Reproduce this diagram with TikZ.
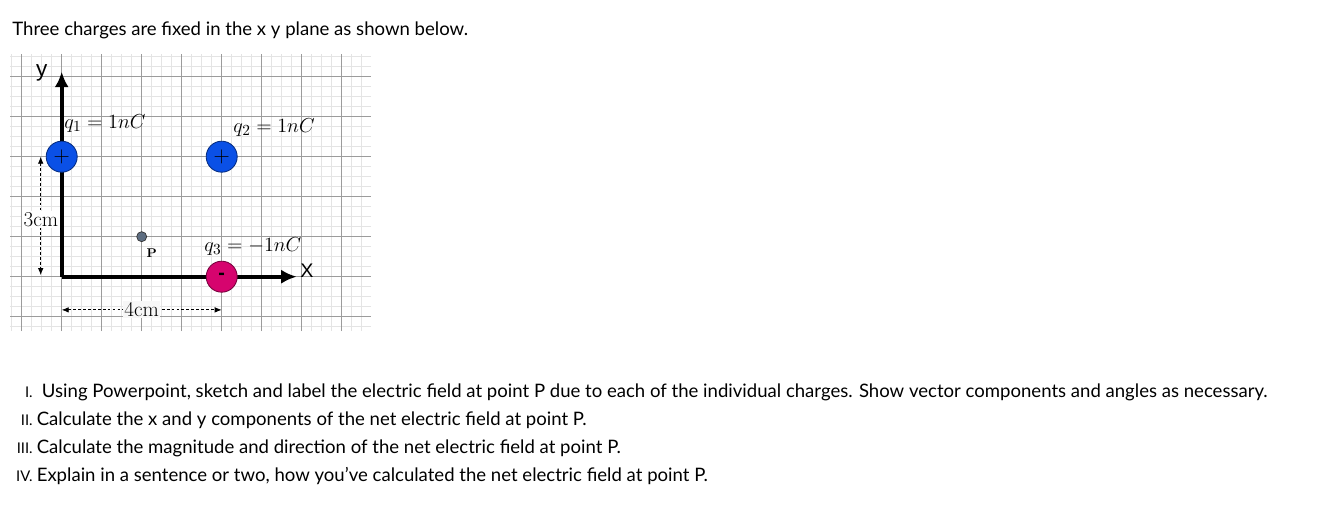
\documentclass[tikz,border=0pt]{standalone}
\usepackage{fontspec}
\setmainfont{Lato}
\newfontfamily\lmfont{Latin Modern Roman}
\newfontfamily\axfont{Liberation Sans}
\usepackage{amsmath}
\usepackage{tikz}
\usetikzlibrary{arrows.meta, calc}

\definecolor{chargeblue}{HTML}{0A50E6}
\definecolor{chargepink}{HTML}{D6046E}
\definecolor{pointgray}{HTML}{5E6E82}
\definecolor{minorgray}{HTML}{E4E4E4}
\definecolor{majorgray}{HTML}{9C9C9C}

\tikzset{
	charge/.style={circle, draw=#1!55!black, fill=#1, minimum size=0.775cm, line width=0.6pt},
	sign/.style={font=\lmfont\fontsize{16}{18}\selectfont},
	qlabel/.style={font=\fontsize{15}{18}\selectfont},
	axislabel/.style={font=\axfont\fontsize{14}{16}\selectfont},
	dimlabel/.style={font=\lmfont\fontsize{15}{18}\selectfont, fill=white, inner sep=1pt},
	dimline/.style={line width=0.6pt, dash pattern=on 2pt off 1.5pt, {Latex[length=5pt,width=4pt]}-{Latex[length=5pt,width=4pt]}},
	task/.style={anchor=base west, font=\fontsize{13.2}{15}\selectfont},
	tasknum/.style={anchor=base east, font=\fontsize{10.5}{12}\selectfont},
}

\begin{document}
\begin{tikzpicture}[>=latex, inner sep=0pt]
	\useasboundingbox (-1.5425,-6.0825) rectangle (31.5825,6.9175);

	\node[task] (title) at (-1.24,6.04) {Three charges are fixed in the x y plane as shown below.};

	% grid
	\draw[minorgray, line width=1.1pt, step=0.25] (-1.29,-1.36) grid (7.74,5.57);
	\draw[majorgray, line width=0.6pt, step=1] (-1.29,-1.36) grid (7.74,5.57);

	% axes
	\coordinate (O) at (0,0);
	\coordinate (ytip) at (0,5.125);
	\coordinate (xtip) at (5.875,0);
	\draw[line width=2.6pt, -{Latex[length=11pt,width=10pt]}] (O) -- (ytip);
	\draw[line width=2.6pt, -{Latex[length=11pt,width=10pt]}] (O) -- (xtip);
	\node[axislabel, font=\axfont\fontsize{16}{18}\selectfont] (ylab) at (-0.5,5.1) {y};
	\node[axislabel] (xlab) at (6.13,0.15) {X};

	% charges
	\node[charge=chargeblue, sign] (q1) at (0,3) {+};
	\node[charge=chargeblue, sign] (q2) at (4,3) {+};
	\node[charge=chargepink, font=\axfont\bfseries\fontsize{14}{16}\selectfont] (q3) at (4,0) {-};
	\node[circle, draw=black!80, fill=pointgray, minimum size=0.25cm, line width=0.5pt] (P) at (2,1) {};

	\node[qlabel] (q1lab) at (1.08,3.84) {$q_1 = 1nC$};
	\node[qlabel] (q2lab) at (5.31,3.74) {$q_2 = 1nC$};
	\node[qlabel] (q3lab) at (4.78,0.75) {$q_3 = -1nC$};
	\node[font=\lmfont\bfseries\fontsize{9}{10}\selectfont] (Plab) at (2.25,0.59) {P};

	% distances
	\coordinate (d1a) at (-0.525,3);
	\coordinate (d1b) at (-0.525,0.04);
	\coordinate (d2a) at (0,-0.83);
	\coordinate (d2b) at (4,-0.83);
	\draw[dimline] (d1a) -- (d1b);
	\draw[dimline] (d2a) -- (d2b);
	\node[dimlabel] (dy) at (-0.52,1.42) {3cm};
	\node[dimlabel, fill=black!3] (dx) at (2,-0.83) {4cm};

	% questions
	\node[tasknum] (n1) at (-0.7175,-3.03) {I.};
	\node[tasknum] (n2) at (-0.7175,-3.73) {II.};
	\node[tasknum] (n3) at (-0.7175,-4.43) {III.};
	\node[tasknum] (n4) at (-0.7175,-5.13) {IV.};
	\node[task] (t1) at (-0.5,-3.03) {Using Powerpoint, sketch and label the electric field at point P due to each of the individual charges. Show vector components and angles as necessary.};
	\node[task] (t2) at (-0.63,-3.73) {Calculate the x and y components of the net electric field at point P.};
	\node[task] (t3) at (-0.63,-4.43) {Calculate the magnitude and direction of the net electric field at point P.};
	\node[task] (t4) at (-0.63,-5.13) {Explain in a sentence or two, how you{\char"0027}ve calculated the net electric field at point P.};
\end{tikzpicture}
\end{document}
